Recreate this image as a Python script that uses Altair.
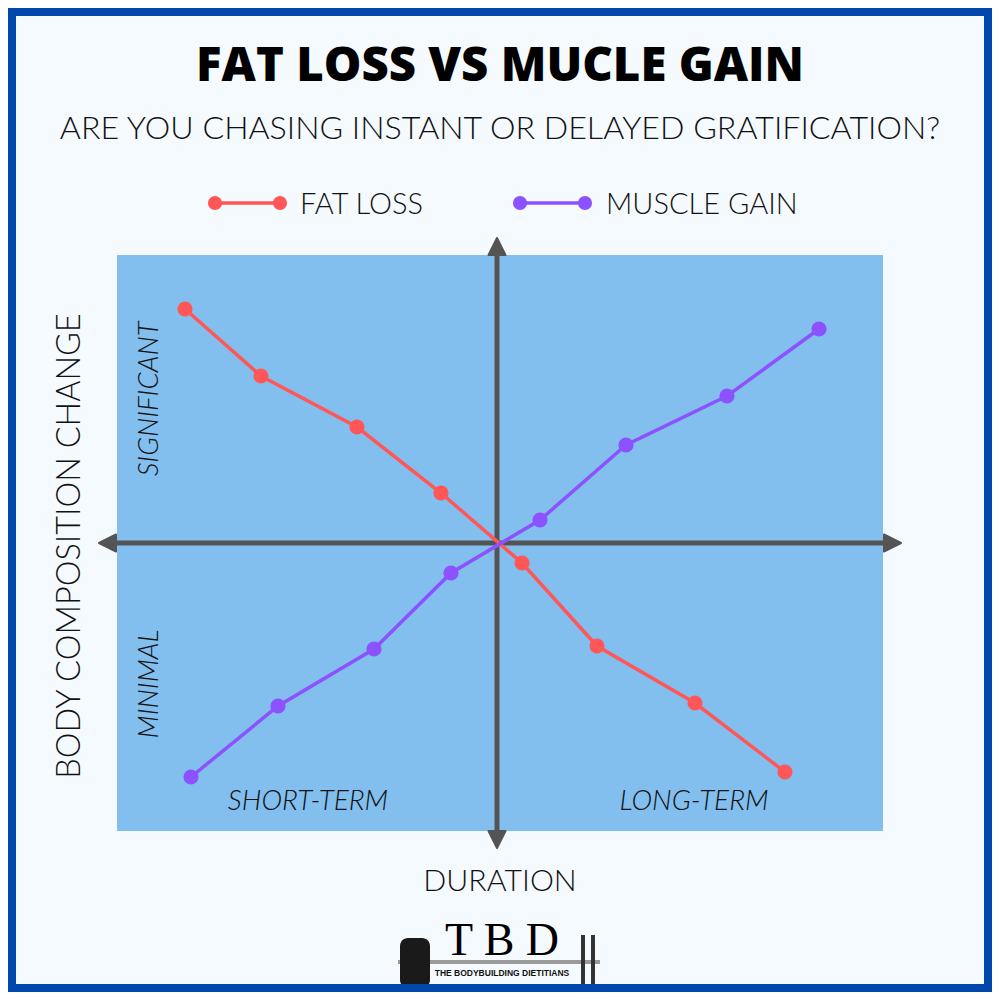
import altair as alt
import pandas as pd

# ---------------- data (conceptual units; 0,0 = axis crossing) ----------------
fat_x = [-3.12, -2.36, -1.40, -0.56, 0.25, 1.00, 1.98, 2.88]
fat_y = [2.34, 1.67, 1.16, 0.50, -0.20, -1.03, -1.60, -2.29]
mus_x = [-3.06, -2.19, -1.23, -0.46, 0.43, 1.29, 2.30, 3.22]
mus_y = [-2.34, -1.63, -1.06, -0.30, 0.23, 0.98, 1.47, 2.14]
series = ["FAT LOSS", "MUSCLE GAIN"]
colors = ["#FF5757", "#8C52FF"]

title_text = "FAT LOSS VS MUCLE GAIN"
subtitle_text = "ARE YOU CHASING INSTANT OR DELAYED GRATIFICATION?"
x_title = "DURATION"
y_title = "BODY COMPOSITION CHANGE"
quad_y_labels = ["SIGNIFICANT", "MINIMAL"]
quad_x_labels = ["SHORT-TERM", "LONG-TERM"]

# plot-region extents (units)
x_min, x_max = -3.81, 3.87
y_min, y_max = -2.88, 2.88

XS = alt.Scale(domain=[-4.89, 4.95], nice=False, zero=False)
YS = alt.Scale(domain=[-4.49, 5.35], nice=False, zero=False)


def X(f, **k):
    return alt.X(f, scale=XS, axis=None, **k)


def Y(f, **k):
    return alt.Y(f, scale=YS, axis=None, **k)


# ---------------- frames ----------------
bg_border = pd.DataFrame({"x": [-4.89], "x2": [4.95], "y": [-4.49], "y2": [5.35]})
quad = pd.DataFrame({"x": [x_min + 0.01], "x2": [x_max - 0.01], "y": [y_min], "y2": [y_max]})

rect = alt.Chart(quad).mark_rect(color="#82BEEE").encode(
    x=X("x:Q"), x2="x2:Q", y=Y("y:Q"), y2="y2:Q")

axes = pd.DataFrame({"x": [x_min, 0.0], "x2": [x_max, 0.0],
                     "y": [0.0, y_min], "y2": [0.0, y_max]})
axis_rules = alt.Chart(axes).mark_rule(color="#545454", strokeWidth=5).encode(
    x=X("x:Q"), x2="x2:Q", y=Y("y:Q"), y2="y2:Q")

arrows = pd.DataFrame({"x": [x_max, 0.0, x_min, 0.0],
                       "y": [0.0, y_min, 0.0, y_max],
                       "a": [0, 90, 180, 270]})
arrow_heads = alt.Chart(arrows).mark_point(
    shape="M0,-0.5 L1,0 L0,0.5 Z", size=1156, filled=True, opacity=1,
    color="#545454", stroke="#545454", strokeWidth=2, strokeJoin="round"
).encode(x=X("x:Q"), y=Y("y:Q"), angle=alt.Angle("a:Q", scale=None))

# ---------------- series ----------------
df = pd.concat([
    pd.DataFrame({"x": fat_x, "y": fat_y, "s": series[0], "o": range(len(fat_x))}),
    pd.DataFrame({"x": mus_x, "y": mus_y, "s": series[1], "o": range(len(mus_x))}),
])
cscale = alt.Scale(domain=series, range=colors)
lines = alt.Chart(df).mark_line(strokeWidth=3.5).encode(
    x=X("x:Q"), y=Y("y:Q"), color=alt.Color("s:N", scale=cscale, legend=None),
    order="o:Q")
pts = alt.Chart(df).mark_circle(size=230, opacity=1).encode(
    x=X("x:Q"), y=Y("y:Q"), color=alt.Color("s:N", scale=cscale, legend=None))

# ---------------- custom legend ----------------
leg = pd.DataFrame({"x": [-2.82, -2.17, 0.23, 0.88], "y": [3.40] * 4,
                    "s": [series[0], series[0], series[1], series[1]]})
leg_lines = alt.Chart(leg).mark_line(strokeWidth=3.5).encode(
    x=X("x:Q"), y=Y("y:Q"), color=alt.Color("s:N", scale=cscale, legend=None))
leg_pts = alt.Chart(leg).mark_circle(size=200, opacity=1).encode(
    x=X("x:Q"), y=Y("y:Q"), color=alt.Color("s:N", scale=cscale, legend=None))
leg_txt = alt.Chart(pd.DataFrame({"x": [-1.97, 1.09], "y": [3.29, 3.29], "t": series})).mark_text(
    align="left", baseline="alphabetic", font="Lato", fontWeight=300, fontSize=29, color="#111111"
).encode(x=X("x:Q"), y=Y("y:Q"), text="t:N")

# ---------------- texts ----------------
title = alt.Chart(pd.DataFrame({"x": [0.03], "y": [4.62], "t": [title_text]})).mark_text(
    align="center", baseline="alphabetic", font="Open Sans", fontWeight=800,
    fontSize=47.3, color="#000000").encode(x=X("x:Q"), y=Y("y:Q"), text="t:N")
subtitle = alt.Chart(pd.DataFrame({"x": [0.03], "y": [4.04], "t": [subtitle_text]})).mark_text(
    align="center", baseline="alphabetic", font="Lato", fontWeight=300, fontSize=32.2,
    color="#111111").encode(x=X("x:Q"), y=Y("y:Q"), text="t:N")
xt = alt.Chart(pd.DataFrame({"x": [0.03], "y": [-3.48], "t": [x_title]})).mark_text(
    align="center", baseline="alphabetic", font="Lato", fontWeight=300, fontSize=30.3,
    color="#111111").encode(x=X("x:Q"), y=Y("y:Q"), text="t:N")
yt = alt.Chart(pd.DataFrame({"x": [-4.17], "y": [-0.03], "t": [y_title]})).mark_text(
    align="center", baseline="alphabetic", font="Lato", fontWeight=300, fontSize=32.5, angle=270,
    color="#111111").encode(x=X("x:Q"), y=Y("y:Q"), text="t:N")
qy = alt.Chart(pd.DataFrame({"x": [-3.39, -3.39], "y": [1.44, -1.41], "t": quad_y_labels})).mark_text(
    align="center", baseline="alphabetic", font="Lato", fontWeight=300, fontStyle="italic", fontSize=27.5,
    angle=270, color="#111111").encode(x=X("x:Q"), y=Y("y:Q"), text="t:N")
qx = alt.Chart(pd.DataFrame({"x": [-1.89, 1.97], "y": [-2.67, -2.67], "t": quad_x_labels})).mark_text(
    align="center", baseline="alphabetic", font="Lato", fontWeight=300, fontStyle="italic", fontSize=28,
    color="#111111").encode(x=X("x:Q"), y=Y("y:Q"), text="t:N")

# ---------------- logo ----------------
logo_big = alt.Chart(pd.DataFrame({"x": [0.05], "y": [-4.12], "t": ["T B D"]})).mark_text(
    align="center", baseline="alphabetic", font="Liberation Serif", fontSize=46,
    color="#000000").encode(x=X("x:Q"), y=Y("y:Q"), text="t:N")
logo_small = alt.Chart(pd.DataFrame({"x": [0.05], "y": [-4.33], "t": ["THE BODYBUILDING DIETITIANS"]})).mark_text(
    align="center", baseline="alphabetic", font="Liberation Sans", fontWeight="bold", fontSize=8.5,
    color="#111111").encode(x=X("x:Q"), y=Y("y:Q"), text="t:N")
bar = alt.Chart(pd.DataFrame({"x": [-0.99], "x2": [1.03], "y": [-4.19]})).mark_rule(
    color="#9a9a9a", strokeWidth=4).encode(x=X("x:Q"), x2="x2:Q", y=Y("y:Q"))
plate = alt.Chart(pd.DataFrame({"x": [-0.97], "x2": [-0.67], "y": [-4.45], "y2": [-3.95]})).mark_rect(
    color="#1a1a1a", cornerRadius=8).encode(x=X("x:Q"), x2="x2:Q", y=Y("y:Q"), y2="y2:Q")
cutlery = alt.Chart(pd.DataFrame({"x": [0.86, 0.96], "y": [-4.45, -4.45], "y2": [-3.92, -3.92]})).mark_rule(
    color="#333333", strokeWidth=4).encode(x=X("x:Q"), y=Y("y:Q"), y2="y2:Q")

border = alt.Chart(bg_border).mark_rect(fillOpacity=0, stroke="#0047AB", strokeWidth=16).encode(
    x=X("x:Q"), x2="x2:Q", y=Y("y:Q"), y2="y2:Q")

chart = alt.layer(
    rect, axis_rules, arrow_heads, lines, pts,
    leg_lines, leg_pts, leg_txt,
    title, subtitle, xt, yt, qy, qx,
    bar, plate, cutlery, logo_big, logo_small,
    border,
).properties(
    width=984, height=984, padding=0, background="#F5FAFE",
    autosize=alt.AutoSizeParams(type="none"),
).configure_view(stroke=None)

chart.save("out.html", embed_options={"renderer": "svg", "actions": False})
